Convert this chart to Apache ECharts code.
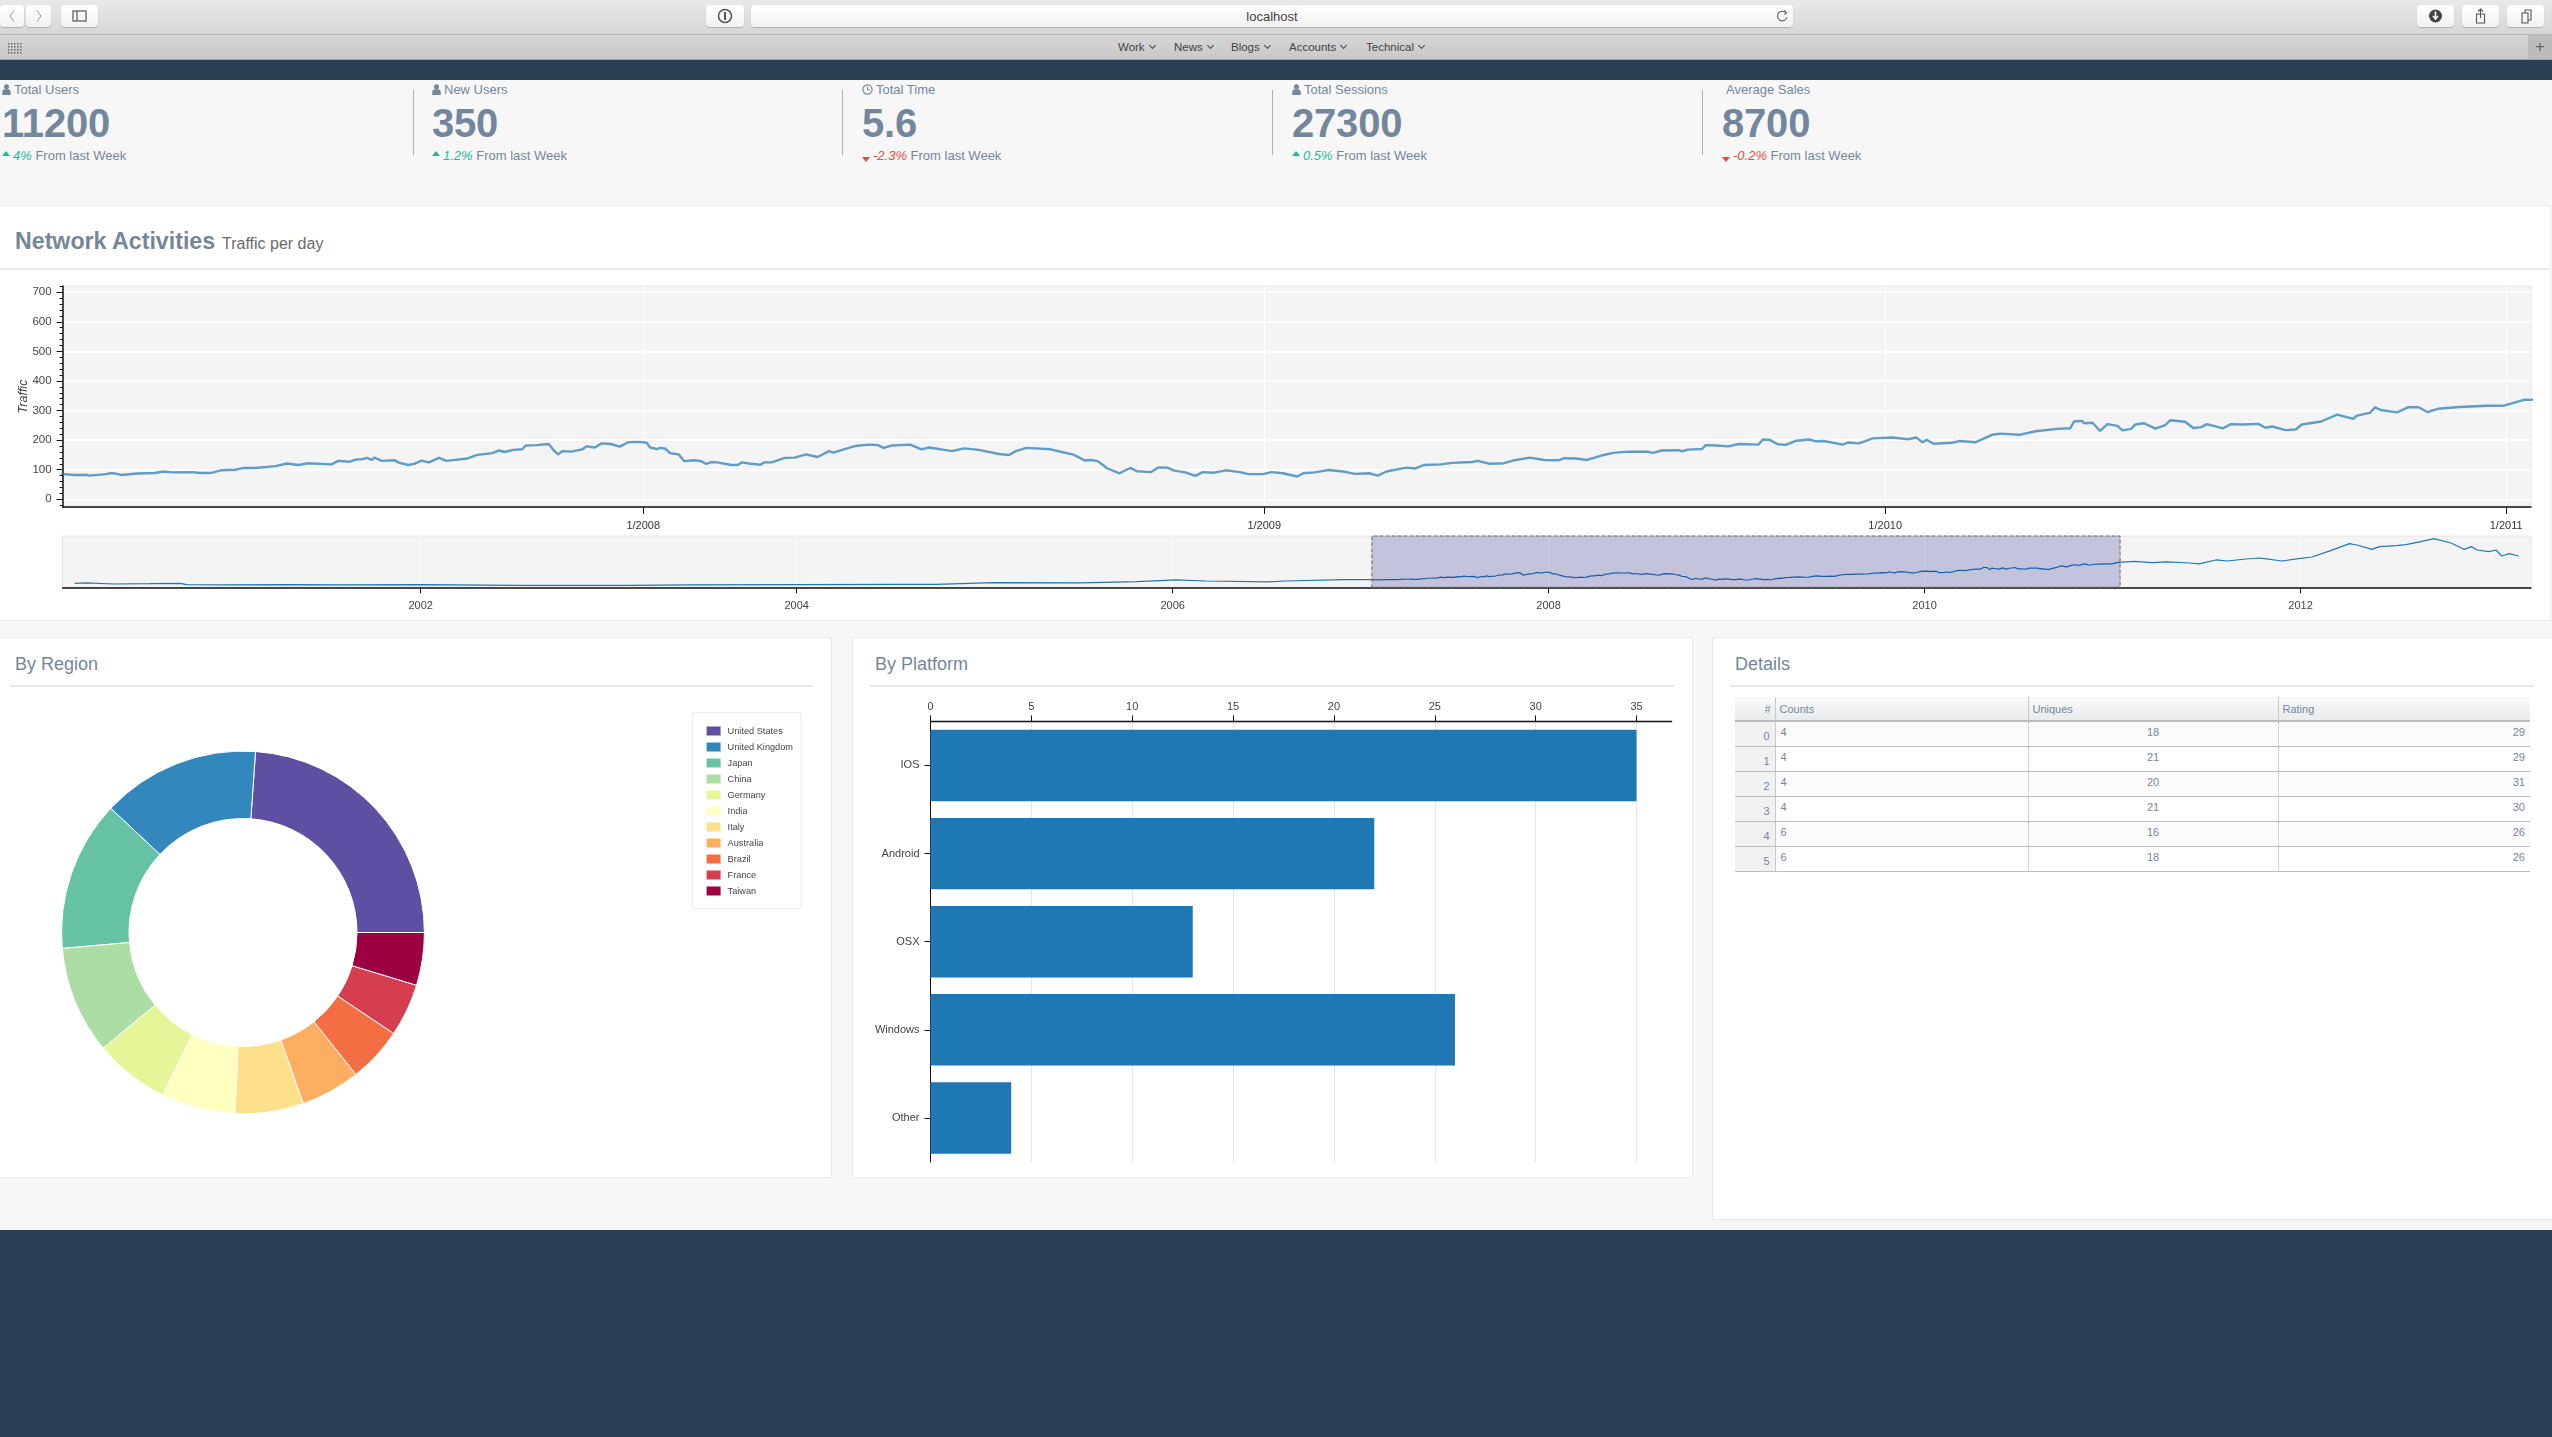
<!DOCTYPE html>
<html lang="en">
<head>
    <meta charset="UTF-8">
    <title>localhost</title>
    <script type="text/javascript" src="https://cdn.jsdelivr.net/npm/echarts@6/dist/echarts.min.js"></script>
    <style>
        html, body { margin: 0; padding: 0; }
        body { position: relative; width: 2552px; height: 1437px; overflow: hidden; background: #f7f7f7; font-family: "Liberation Sans", Arial, sans-serif; color: #73879c; }
        .abs { position: absolute; white-space: nowrap; }
        #bar1 { left: 0; top: 0; width: 2552px; height: 34px; background: linear-gradient(#e9e9e9, #d6d6d6); border-bottom: 1px solid #b4b4b4; }
        #bar2 { left: 0; top: 35px; width: 2552px; height: 24px; background: linear-gradient(#d6d6d6, #c9c9c9); border-bottom: 1px solid #a0a0a0; }
        #navtop { left: 0; top: 60px; width: 2552px; height: 20px; background: #2a3f54; }
        #footer { left: 0; top: 1230px; width: 2552px; height: 207px; background: #2a3f54; }
        .btn { top: 5px; height: 22px; background: linear-gradient(#ffffff, #f1f1f1); border-radius: 4px; box-shadow: 0 1px 1px #aaa; text-align: center; color: #666; }
        .menu { top: 39px; line-height: 16px; font-size: 11.5px; color: #444; }
        .chev { display: inline-block; width: 4px; height: 4px; border-right: 1px solid #444; border-bottom: 1px solid #444; transform: rotate(45deg); margin: 0 0 3px 5px; }
        .sep { top: 90px; width: 1px; height: 65px; background: #adb2b5; }
        .statlabel { top: 82px; line-height: 16px; font-size: 13px; }
        .statnum { top: 100px; line-height: 46px; font-size: 40px; font-weight: bold; letter-spacing: -0.2px; }
        .statchange { top: 148px; line-height: 16px; font-size: 13px; }
        .up { color: #1abb9c; font-style: italic; }
        .down { color: #e74c3c; font-style: italic; }
        .tri { display: inline-block; width: 0; height: 0; border-left: 4px solid transparent; border-right: 4px solid transparent; margin-right: 3px; }
        .tri.u { border-bottom: 5px solid #1abb9c; vertical-align: 4px; }
        .tri.d { border-top: 5px solid #e74c3c; vertical-align: -2px; }
        .panel { background: #fff; border: 1px solid #e6e9ed; box-sizing: border-box; }
        .ptitle { top: 653px; line-height: 22px; font-size: 18px; }
        .pline { top: 685px; height: 2px; background: #e6e9ed; }
        #detail { left: 1735px; top: 697px; border-collapse: collapse; table-layout: fixed; font-size: 11px; color: #73879c; width: 795px; }
        #detail th { height: 23px; padding: 0 0 0 4px; font-weight: normal; text-align: left; background: linear-gradient(#fafafa, #e8eaec); border-right: 1px solid #c8c8c8; border-bottom: 2px solid #bdbdbd; }
        #detail th:last-child { border-right: none; }
        #detail td { height: 20px; padding: 0 5px 4px 5px; box-sizing: content-box; border-bottom: 1px solid #bdbdbd; border-right: 1px dotted #bbb; line-height: 14px; }
        #detail td:last-child { border-right: none; }
        #detail tr:nth-child(even) td { background: #fbfbfb; }
        #detail .idx { text-align: right; background: #f1f1f1 !important; border-right: 1px solid #c8c8c8; padding: 4px 5px 0 0; }
        #detail .mid { text-align: center; }
        #detail .rgt { text-align: right; }
    </style>
</head>
<body>

<div class="abs" id="bar1"></div>
<div class="abs" id="bar2"></div>
<div class="abs" id="navtop"></div>

<div class="abs btn" style="left:0;width:24px;">
    <svg width="24" height="22"><path d="M14 5.5 L10 11 L14 16.5" fill="none" stroke="#999" stroke-width="1"/></svg>
</div>
<div class="abs btn" style="left:26px;width:25px;">
    <svg width="25" height="22"><path d="M11 5.5 L15 11 L11 16.5" fill="none" stroke="#999" stroke-width="1"/></svg>
</div>
<div class="abs btn" style="left:61px;width:37px;">
    <svg width="37" height="22"><rect x="12" y="6" width="13" height="10" fill="none" stroke="#555" stroke-width="1.2"/><line x1="16" y1="6" x2="16" y2="16" stroke="#555" stroke-width="1.2"/></svg>
</div>
<div class="abs btn" style="left:706px;width:38px;">
    <svg width="38" height="22"><circle cx="19" cy="11" r="6.5" fill="none" stroke="#555" stroke-width="1.5"/><rect x="18" y="7" width="2" height="8" fill="#555"/></svg>
</div>
<div class="abs btn" style="left:751px;width:1042px;font-size:13px;line-height:23px;color:#444;">localhost</div>
<div class="abs" style="left:1776px;top:9px;">
    <svg width="13" height="14"><path d="M10 4 A4.8 4.8 0 1 0 11 8" fill="none" stroke="#666" stroke-width="1.1"/><path d="M8 1 L11 4 L8 5.5" fill="none" stroke="#666" stroke-width="1"/></svg>
</div>
<div class="abs btn" style="left:2417px;width:37px;">
    <svg width="37" height="22"><circle cx="18.5" cy="11" r="6.5" fill="#444"/><path d="M18.5 6.5 V13 M16 11 L18.5 14 L21 11" fill="none" stroke="#fff" stroke-width="1.5"/></svg>
</div>
<div class="abs btn" style="left:2462px;width:37px;">
    <svg width="37" height="22"><path d="M14.5 9 H22.5 V18 H14.5 Z M18.5 13 V4 M16 6.5 L18.5 4 L21 6.5" fill="none" stroke="#555" stroke-width="1.1"/></svg>
</div>
<div class="abs btn" style="left:2507px;width:37px;">
    <svg width="37" height="22"><path d="M15 8 H21 V18 H15 Z M18 8 V5 H24 V15 H21" fill="none" stroke="#555" stroke-width="1.1"/></svg>
</div>

<div class="abs" style="left:8px;top:41px;">
    <svg width="16" height="12"><g fill="#666" id="gridicon"></g></svg>
</div>
<div class="abs menu" style="left:1118px;">Work<span class="chev"></span></div>
<div class="abs menu" style="left:1174px;">News<span class="chev"></span></div>
<div class="abs menu" style="left:1231px;">Blogs<span class="chev"></span></div>
<div class="abs menu" style="left:1289px;">Accounts<span class="chev"></span></div>
<div class="abs menu" style="left:1366px;">Technical<span class="chev"></span></div>
<div class="abs" style="left:2528px;top:35px;width:24px;height:24px;background:#bcbcbc;color:#666;text-align:center;font-size:17px;line-height:23px;">+</div>

<div id="stats"></div>

<!-- network activities -->
<div class="abs panel" style="left:-1px;top:205px;width:2552px;height:416px;"></div>
<div class="abs" style="left:15px;top:227px;line-height:28px;font-size:23.2px;font-weight:bold;">Network Activities</div>
<div class="abs" style="left:222px;top:234px;line-height:20px;font-size:16px;color:#6b6b6b;">Traffic per day</div>
<div class="abs" style="left:0;top:268px;width:2549px;height:2px;background:#e6e9ed;"></div>
<div class="abs" id="activity_chart" style="left:0;top:270px;width:2552px;height:350px;"></div>

<!-- lower panels -->
<div class="abs panel" style="left:-1px;top:637px;width:833px;height:541px;"></div>
<div class="abs panel" style="left:852px;top:637px;width:841px;height:541px;"></div>
<div class="abs panel" style="left:1712px;top:637px;width:842px;height:583px;"></div>

<div class="abs ptitle" style="left:15px;">By Region</div>
<div class="abs pline" style="left:10px;width:803px;"></div>
<div class="abs ptitle" style="left:875px;">By Platform</div>
<div class="abs pline" style="left:870px;width:804px;"></div>
<div class="abs ptitle" style="left:1735px;">Details</div>
<div class="abs pline" style="left:1730px;width:804px;"></div>

<div class="abs" id="region_chart" style="left:0;top:690px;width:830px;height:486px;"></div>
<div class="abs" id="platform_chart" style="left:853px;top:690px;width:839px;height:486px;"></div>
<table class="abs" id="detail"></table>

<div class="abs" id="footer"></div>

<script type="text/javascript">

// traffic, x in decimal years
var trafficYears = [
    2000.159, 2000.22, 2000.372, 2000.556, 2000.723, 2000.754, 2000.983, 2001.288, 2001.594, 2002, 2002.51, 2003.12, 2003.426, 2004, 2004.55,
    2004.74, 2005.05, 2005.51, 2005.81, 2006.02, 2006.18, 2006.51, 2006.60, 2006.91,
    2007.066, 2007.084, 2007.103, 2007.107, 2007.135, 2007.144, 2007.153, 2007.160, 2007.186, 2007.213, 2007.227, 2007.241, 2007.274, 2007.287, 2007.306, 2007.320, 2007.343, 2007.357, 2007.375, 2007.408, 2007.426, 2007.445, 2007.460, 2007.498, 2007.509, 2007.528, 2007.537, 2007.548, 2007.555, 2007.563, 2007.567, 2007.579, 2007.600, 2007.606, 2007.622, 2007.631, 2007.643, 2007.655, 2007.671, 2007.683, 2007.717, 2007.733, 2007.757, 2007.768, 2007.777, 2007.791, 2007.805, 2007.811, 2007.828, 2007.848, 2007.856, 2007.863, 2007.870, 2007.884, 2007.902, 2007.909, 2007.922, 2007.933, 2007.948, 2007.962, 2007.976, 2007.994,
    2008.006, 2008.011, 2008.022, 2008.027, 2008.036, 2008.043, 2008.057, 2008.066, 2008.082, 2008.093, 2008.101, 2008.110, 2008.119, 2008.142, 2008.153, 2008.159, 2008.170, 2008.189, 2008.195, 2008.207, 2008.228, 2008.244, 2008.262, 2008.281, 2008.299, 2008.306, 2008.323, 2008.341, 2008.364, 2008.378, 2008.387, 2008.401, 2008.430, 2008.448, 2008.460, 2008.485, 2008.497, 2008.517, 2008.540, 2008.554, 2008.573, 2008.589, 2008.600, 2008.617, 2008.656, 2008.674, 2008.693, 2008.711, 2008.721, 2008.732, 2008.747, 2008.767, 2008.784, 2008.795, 2008.818, 2008.830, 2008.844, 2008.855, 2008.873, 2008.889, 2008.901, 2008.919, 2008.938, 2008.961, 2008.975, 2008.998,
    2009.012, 2009.030, 2009.053, 2009.063, 2009.081, 2009.104, 2009.127, 2009.146, 2009.169, 2009.183, 2009.197, 2009.229, 2009.243, 2009.257, 2009.284, 2009.303, 2009.335, 2009.344, 2009.363, 2009.386, 2009.405, 2009.428, 2009.451, 2009.474, 2009.483, 2009.502, 2009.520, 2009.543, 2009.562, 2009.585, 2009.617, 2009.626, 2009.640, 2009.668, 2009.673, 2009.682, 2009.705, 2009.711, 2009.728, 2009.747, 2009.765, 2009.796, 2009.803, 2009.814, 2009.827, 2009.840, 2009.857, 2009.879, 2009.888, 2009.901, 2009.932, 2009.940, 2009.958, 2009.980,
    2010.011, 2010.037, 2010.050, 2010.060, 2010.067, 2010.078, 2010.107, 2010.120, 2010.146, 2010.172, 2010.186, 2010.216, 2010.242, 2010.277, 2010.298, 2010.304, 2010.317, 2010.321, 2010.334, 2010.346, 2010.358, 2010.374, 2010.382, 2010.396, 2010.403, 2010.417, 2010.435, 2010.451, 2010.459, 2010.483, 2010.496, 2010.509, 2010.518, 2010.544, 2010.557, 2010.575, 2010.601, 2010.612, 2010.623, 2010.645, 2010.661, 2010.671, 2010.702, 2010.728, 2010.754, 2010.759, 2010.781, 2010.789, 2010.798, 2010.824, 2010.842, 2010.859, 2010.873, 2010.890, 2010.925, 2010.969, 2010.995,
    2011.013, 2011.030, 2011.039, 2011.12, 2011.21, 2011.29, 2011.41, 2011.46, 2011.55, 2011.61, 2011.71, 2011.78, 2011.81, 2011.90, 2011.99,
    2012.06, 2012.16, 2012.26, 2012.30, 2012.38, 2012.42, 2012.51, 2012.56, 2012.64, 2012.71, 2012.80, 2012.87, 2012.91, 2012.94, 2013.00, 2013.04, 2013.07, 2013.11, 2013.16
];
var trafficValues = [
    32, 37, 22, 27, 32, 13, 8, 13, 8, 13, 3, 3, 8, 13, 18,
    18, 42, 37, 56, 81, 66, 52, 66, 86,
    85, 82, 83, 80, 85, 89, 86, 82, 87, 89, 94, 91, 92, 89, 90, 98, 100, 106, 106, 112, 121, 116, 122, 118, 130, 127, 134, 136, 140, 133, 141, 130, 132, 124, 116, 120, 131, 125, 140, 130, 138, 150, 156, 165, 160, 167, 169, 182, 183, 187, 165, 152, 163, 161, 169, 179, 175, 189, 187, 178, 193, 194,
    191, 175, 170, 174, 171, 156, 152, 129, 132, 129, 120, 126, 125, 116, 117, 125, 121, 117, 125, 125, 140, 141, 152, 143, 163, 158, 169, 180, 185, 183, 174, 182, 185, 169, 175, 167, 163, 172, 167, 161, 153, 150, 163, 174, 169, 160, 151, 131, 133, 129, 105, 88, 106, 95, 92, 108, 107, 97, 91, 79, 92, 90, 98, 92, 85, 85,
    92, 88, 77, 88, 91, 99, 94, 86, 88, 80, 94, 107, 104, 116, 118, 123, 126, 130, 120, 122, 133, 141, 133, 132, 139, 138, 133, 148, 157, 161, 161, 157, 165, 166, 162, 168, 170, 183, 182, 179, 187, 185, 202, 201, 186, 184, 198, 202, 196, 197, 185, 192, 189, 206,
    209, 203, 209, 193, 201, 188, 191, 197, 193, 218, 222, 218, 230, 238, 240, 263, 265, 257, 259, 231, 254, 248, 233, 238, 253, 257, 239, 251, 267, 262, 241, 244, 254, 240, 254, 253, 255, 242, 246, 234, 236, 253, 263, 286, 272, 282, 293, 311, 302, 294, 311, 311, 295, 306, 312, 316, 316,
    327, 337, 336, 352, 333, 343, 328, 314, 372, 357, 386, 401, 391, 357, 391,
    415, 508, 610, 590, 527, 566, 580, 595, 639, 682, 619, 527, 566, 517, 493, 517, 430, 464, 430
];
var selectedRange = [2007.06, 2011.04];

var trafficMajorTicks = [0, 100, 200, 300, 400, 500, 600, 700];
var trafficMinorTicks = [-20, 20, 40, 60, 80, 120, 140, 160, 180, 220, 240, 260, 280, 320, 340, 360, 380, 420, 440, 460, 480, 520, 540, 560, 580, 620, 640, 660, 680, 720];
var detailYearTicks = [2008, 2009, 2010, 2011];
var overviewYearTicks = [2002, 2004, 2006, 2008, 2010, 2012];

var regionNames = ['United States', 'United Kingdom', 'Japan', 'China', 'Germany', 'India', 'Italy', 'Australia', 'Brazil', 'France', 'Taiwan'];
var regionShares = [23.9, 14.1, 13.4, 9.6, 6.7, 6.6, 6.1, 5.3, 4.9, 4.7, 4.7];
var regionColors = ['#5e4fa2', '#3288bd', '#66c2a5', '#abdda4', '#e6f598', '#ffffbf', '#fee08b', '#fdae61', '#f46d43', '#d53e4f', '#9e0142'];

var platformNames = ['IOS', 'Android', 'OSX', 'Windows', 'Other'];
var platformCounts = [35, 22, 13, 26, 4];
var platformTicks = [0, 5, 10, 15, 20, 25, 30, 35];

var tableHeaders = ['#', 'Counts', 'Uniques', 'Rating'];
var tableCounts = [4, 4, 4, 4, 6, 6];
var tableUniques = [18, 21, 20, 21, 16, 18];
var tableRating = [29, 29, 31, 30, 26, 26];

var statLabels = ['Total Users', 'New Users', 'Total Time', 'Total Sessions', 'Average Sales'];
var statValues = ['11200', '350', '5.6', '27300', '8700'];
var statChanges = ['4%', '1.2%', '-2.3%', '0.5%', '-0.2%'];
var statIcons = ['user', 'user', 'clock', 'user', ''];
var statLeft = [2, 432, 862, 1292, 1722];
var sepLeft = [413, 842, 1272, 1702];

var userIcon = '<svg width="9" height="11" style="vertical-align:-1px;margin-right:3px"><circle cx="4.5" cy="2.7" r="2.5" fill="#73879c"/><path d="M0.3 11 V8 Q0.3 5.5 3 5.2 H6 Q8.7 5.5 8.7 8 V11 Z" fill="#73879c"/></svg>';
var clockIcon = '<svg width="11" height="11" style="vertical-align:-1px;margin-right:3px"><circle cx="5.5" cy="5.5" r="4.6" fill="none" stroke="#73879c" stroke-width="1.2"/><path d="M5.5 2.8 V5.8 H8" fill="none" stroke="#73879c"/></svg>';

var statsHtml = '';
for (var i = 0; i < statLabels.length; i++) {
    var icon = statIcons[i] === 'user' ? userIcon : (statIcons[i] === 'clock' ? clockIcon : '');
    var labelLeft = statIcons[i] === '' ? statLeft[i] + 4 : statLeft[i];
    var isDown = statChanges[i].charAt(0) === '-';
    statsHtml += '<div class="abs statlabel" style="left:' + labelLeft + 'px;">' + icon + statLabels[i] + '</div>';
    statsHtml += '<div class="abs statnum" style="left:' + statLeft[i] + 'px;">' + statValues[i] + '</div>';
    statsHtml += '<div class="abs statchange" style="left:' + statLeft[i] + 'px;"><span class="tri ' + (isDown ? 'd' : 'u') + '"></span>'
        + '<span class="' + (isDown ? 'down' : 'up') + '">' + statChanges[i] + '</span> From last Week</div>';
}
for (var s = 0; s < sepLeft.length; s++) {
    statsHtml += '<div class="abs sep" style="left:' + sepLeft[s] + 'px;"></div>';
}
document.getElementById('stats').innerHTML = statsHtml;

var dots = '';
for (var r = 0; r < 4; r++) {
    for (var c = 0; c < 5; c++) {
        dots += '<rect x="' + (c * 3) + '" y="' + (r * 3) + '" width="1.5" height="1.5"/>';
    }
}
document.getElementById('gridicon').innerHTML = dots;

var tableHtml = '<colgroup><col style="width:40px"><col style="width:253px"><col style="width:250px"><col style="width:252px"></colgroup><tr>';
for (var h = 0; h < tableHeaders.length; h++) {
    tableHtml += '<th' + (h === 0 ? ' style="text-align:right;padding-right:4px"' : '') + '>' + tableHeaders[h] + '</th>';
}
tableHtml += '</tr>';
for (var t = 0; t < tableCounts.length; t++) {
    tableHtml += '<tr><td class="idx">' + t + '</td><td>' + tableCounts[t] + '</td><td class="mid">' + tableUniques[t] + '</td><td class="rgt">' + tableRating[t] + '</td></tr>';
}
document.getElementById('detail').innerHTML = tableHtml;

var trafficData = [];
for (var k = 0; k < trafficYears.length; k++) {
    trafficData.push([trafficYears[k], trafficValues[k]]);
}

var tickColor = '#111';
var labelColor = '#444';

var activityChart = echarts.init(document.getElementById('activity_chart'));
activityChart.setOption({
    animation: false,
    grid: [
        { left: 62.6, width: 2468.4, top: 16, height: 221, show: true, backgroundColor: '#f4f4f4', borderColor: '#e6e6e6', borderWidth: 1 },
        { left: 62.6, width: 2468.4, top: 266, height: 51.3, show: true, backgroundColor: '#f4f4f4', borderColor: '#e6e6e6', borderWidth: 1 }
    ],
    xAxis: [
        {
            type: 'value', gridIndex: 0, min: 2007.065, max: 2011.04, scale: true,
            axisLine: { onZero: false, lineStyle: { color: tickColor, width: 1.5 } },
            axisTick: { customValues: detailYearTicks, length: 7, lineStyle: { color: tickColor } },
            axisLabel: { customValues: detailYearTicks, margin: 13.5, fontSize: 11, color: '#333', fontFamily: 'Liberation Sans',
                formatter: function (v) { return '1/' + v; } },
            splitLine: { lineStyle: { color: '#ffffff', width: 1 } }
        },
        {
            type: 'value', gridIndex: 1, min: 2000.095, max: 2013.226, scale: true,
            axisLine: { onZero: false, lineStyle: { color: tickColor, width: 1.5 } },
            axisTick: { customValues: overviewYearTicks, length: 6, lineStyle: { color: tickColor } },
            axisLabel: { customValues: overviewYearTicks, margin: 13, fontSize: 11, color: labelColor, fontFamily: 'Liberation Sans',
                formatter: function (v) { return String(v); } },
            splitLine: { lineStyle: { color: '#ffffff', width: 1 } }
        }
    ],
    yAxis: [
        {
            type: 'value', gridIndex: 0, position: 'left', min: -26, max: 721,
            name: 'Traffic', nameLocation: 'middle', nameGap: 33, nameMoveOverlap: false,
            nameTextStyle: { fontStyle: 'italic', fontSize: 12.5, color: labelColor, fontFamily: 'Liberation Sans' },
            axisLine: { show: true, onZero: false, lineStyle: { color: tickColor, width: 1.5 } },
            axisTick: { show: true, customValues: trafficMajorTicks, length: 6, lineStyle: { color: tickColor } },
            axisLabel: { customValues: trafficMajorTicks, margin: 11, fontSize: 11.5, color: labelColor, fontFamily: 'Liberation Sans' },
            splitLine: { lineStyle: { color: '#ffffff', width: 1.5 } }
        },
        {
            type: 'value', gridIndex: 0, position: 'left', min: -26, max: 721,
            axisLine: { show: false, onZero: false },
            axisTick: { show: true, customValues: trafficMinorTicks, length: 3, lineStyle: { color: tickColor } },
            axisLabel: { show: false },
            splitLine: { show: false }
        },
        {
            type: 'value', gridIndex: 1, min: -26, max: 721,
            axisLine: { show: false }, axisTick: { show: false }, axisLabel: { show: false }, splitLine: { show: false }
        }
    ],
    series: [
        {
            type: 'line', xAxisIndex: 0, yAxisIndex: 0, data: trafficData, showSymbol: false, silent: true, clip: true,
            lineStyle: { color: '#1f77b4', width: 2.4, opacity: 0.7 }
        },
        {
            type: 'line', xAxisIndex: 1, yAxisIndex: 2, data: trafficData, showSymbol: false, silent: true, clip: true,
            lineStyle: { color: '#1f77b4', width: 1.2 },
            markArea: {
                silent: true, z: 5,
                itemStyle: { color: 'rgba(0, 0, 128, 0.2)', borderColor: '#666', borderWidth: 1, borderType: 'dashed' },
                data: [[{ xAxis: selectedRange[0] }, { xAxis: selectedRange[1] }]]
            }
        }
    ]
});

var regionData = [];
for (var p = 0; p < regionNames.length; p++) {
    regionData.push({ name: regionNames[p], value: regionShares[p] });
}

var regionChart = echarts.init(document.getElementById('region_chart'));
regionChart.setOption({
    animation: false,
    color: regionColors,
    legend: {
        orient: 'vertical', left: 692.6, top: 22.5,
        data: regionNames, icon: 'rect', itemWidth: 16, itemHeight: 11, itemGap: 3,
        padding: [12, 8, 11, 12], borderColor: '#ececec', borderWidth: 1, selectedMode: false,
        textStyle: { fontSize: 9.2, lineHeight: 11, color: labelColor, fontFamily: 'Liberation Sans', padding: [0, 0, 0, 1] }
    },
    series: [{
        type: 'pie', center: [243, 242.5], radius: [114, 181.4], startAngle: 0, clockwise: false,
        data: regionData, silent: true,
        label: { show: false }, labelLine: { show: false },
        itemStyle: { borderColor: '#ffffff', borderWidth: 1 }
    }]
});

var platformChart = echarts.init(document.getElementById('platform_chart'));
platformChart.setOption({
    animation: false,
    grid: { left: 77.5, top: 31.4, width: 741.1, height: 440.6 },
    xAxis: {
        type: 'value', position: 'top', min: 0, max: 36.74,
        axisLine: { show: true, lineStyle: { color: tickColor, width: 1.3 } },
        axisTick: { show: true, customValues: platformTicks, length: 6, lineStyle: { color: tickColor } },
        axisLabel: { customValues: platformTicks, margin: 9, fontSize: 11, color: labelColor, fontFamily: 'Liberation Sans' },
        splitLine: { show: true, lineStyle: { color: '#e5e5e5', width: 1 } }
    },
    yAxis: {
        type: 'category', inverse: true, data: platformNames,
        axisLine: { show: true, lineStyle: { color: tickColor, width: 1 } },
        axisTick: { show: true, alignWithLabel: true, length: 6, lineStyle: { color: tickColor } },
        axisLabel: { margin: 11, fontSize: 11, color: labelColor, fontFamily: 'Liberation Sans' }
    },
    series: [{
        type: 'bar', data: platformCounts, barWidth: 71.4, silent: true,
        itemStyle: { color: '#1f77b4' }
    }]
});

</script>
</body>
</html>
